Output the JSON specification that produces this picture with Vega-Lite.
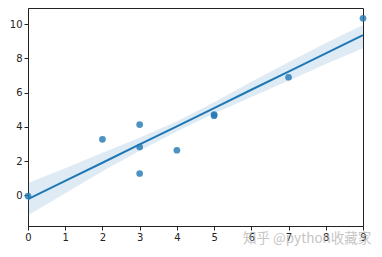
{
  "$schema": "https://vega.github.io/schema/vega-lite/v6.json",
  "width": 335,
  "height": 218,
  "autosize": {"type": "none"},
  "padding": {"left": 28, "top": 8, "right": 19, "bottom": 31},
  "background": "white",
  "config": {
    "view": {"stroke": "#222222", "strokeWidth": 1},
    "font": "DejaVu Sans",
    "axis": {
      "domainColor": "#222222",
      "tickColor": "#222222",
      "tickSize": 4,
      "labelColor": "#222222",
      "labelFontSize": 10,
      "labelFont": "DejaVu Sans",
      "grid": false,
      "title": null,
      "labelPadding": 2
    }
  },
  "datasets": {
    "points": [
      {"x": 0, "y": -0.05},
      {"x": 2, "y": 3.27},
      {"x": 3, "y": 4.13},
      {"x": 3, "y": 2.82},
      {"x": 3, "y": 1.27},
      {"x": 4, "y": 2.63},
      {"x": 5, "y": 4.65},
      {"x": 5, "y": 4.72},
      {"x": 7, "y": 6.9},
      {"x": 9, "y": 10.35}
    ],
    "fit": [
      {"x": 0, "y": -0.23, "lo": -1.17, "hi": 0.72},
      {"x": 1, "y": 0.84, "lo": 0.12, "hi": 1.58},
      {"x": 2, "y": 1.9, "lo": 1.4, "hi": 2.48},
      {"x": 3, "y": 2.97, "lo": 2.6, "hi": 3.36},
      {"x": 4, "y": 4.03, "lo": 3.74, "hi": 4.32},
      {"x": 5, "y": 5.1, "lo": 4.78, "hi": 5.44},
      {"x": 6, "y": 6.17, "lo": 5.74, "hi": 6.64},
      {"x": 7, "y": 7.23, "lo": 6.7, "hi": 7.78},
      {"x": 8, "y": 8.3, "lo": 7.68, "hi": 8.9},
      {"x": 9, "y": 9.36, "lo": 8.6, "hi": 9.96}
    ],
    "wm": [{"x": 7.5, "y": -2.55, "t": "知乎 @python收藏家"}]
  },
  "encoding": {
    "x": {"field": "x", "type": "quantitative", "scale": {"domain": [0, 9], "nice": false, "zero": false},
      "axis": {"values": [0,1,2,3,4,5,6,7,8,9], "format": "d", "labelOverlap": false, "labelFlush": false}}
  },
  "layer": [
    {
      "data": {"name": "fit"},
      "mark": {"type": "area", "color": "#1f77b4", "opacity": 0.15},
      "encoding": {
        "y": {"field": "lo", "type": "quantitative", "scale": {"domain": [-1.8, 10.95], "nice": false, "zero": false}, "axis": {"values": [0,2,4,6,8,10], "format": "d", "labelOverlap": false}},
        "y2": {"field": "hi"}
      }
    },
    {
      "data": {"name": "points"},
      "mark": {"type": "circle", "color": "#1f77b4", "opacity": 0.8, "size": 45, "clip": false},
      "encoding": {
        "y": {"field": "y", "type": "quantitative"}
      }
    },
    {
      "data": {"name": "fit"},
      "mark": {"type": "line", "color": "#1f77b4", "strokeWidth": 2},
      "encoding": {
        "y": {"field": "y", "type": "quantitative"}
      }
    },
    {
      "data": {"name": "wm"},
      "mark": {"type": "text", "color": "#b8b8b8", "opacity": 0.8, "fontSize": 13.5, "font": "Noto Sans CJK SC", "align": "center", "baseline": "middle", "clip": false},
      "encoding": {
        "y": {"field": "y", "type": "quantitative"},
        "text": {"field": "t"}
      }
    }
  ]
}
